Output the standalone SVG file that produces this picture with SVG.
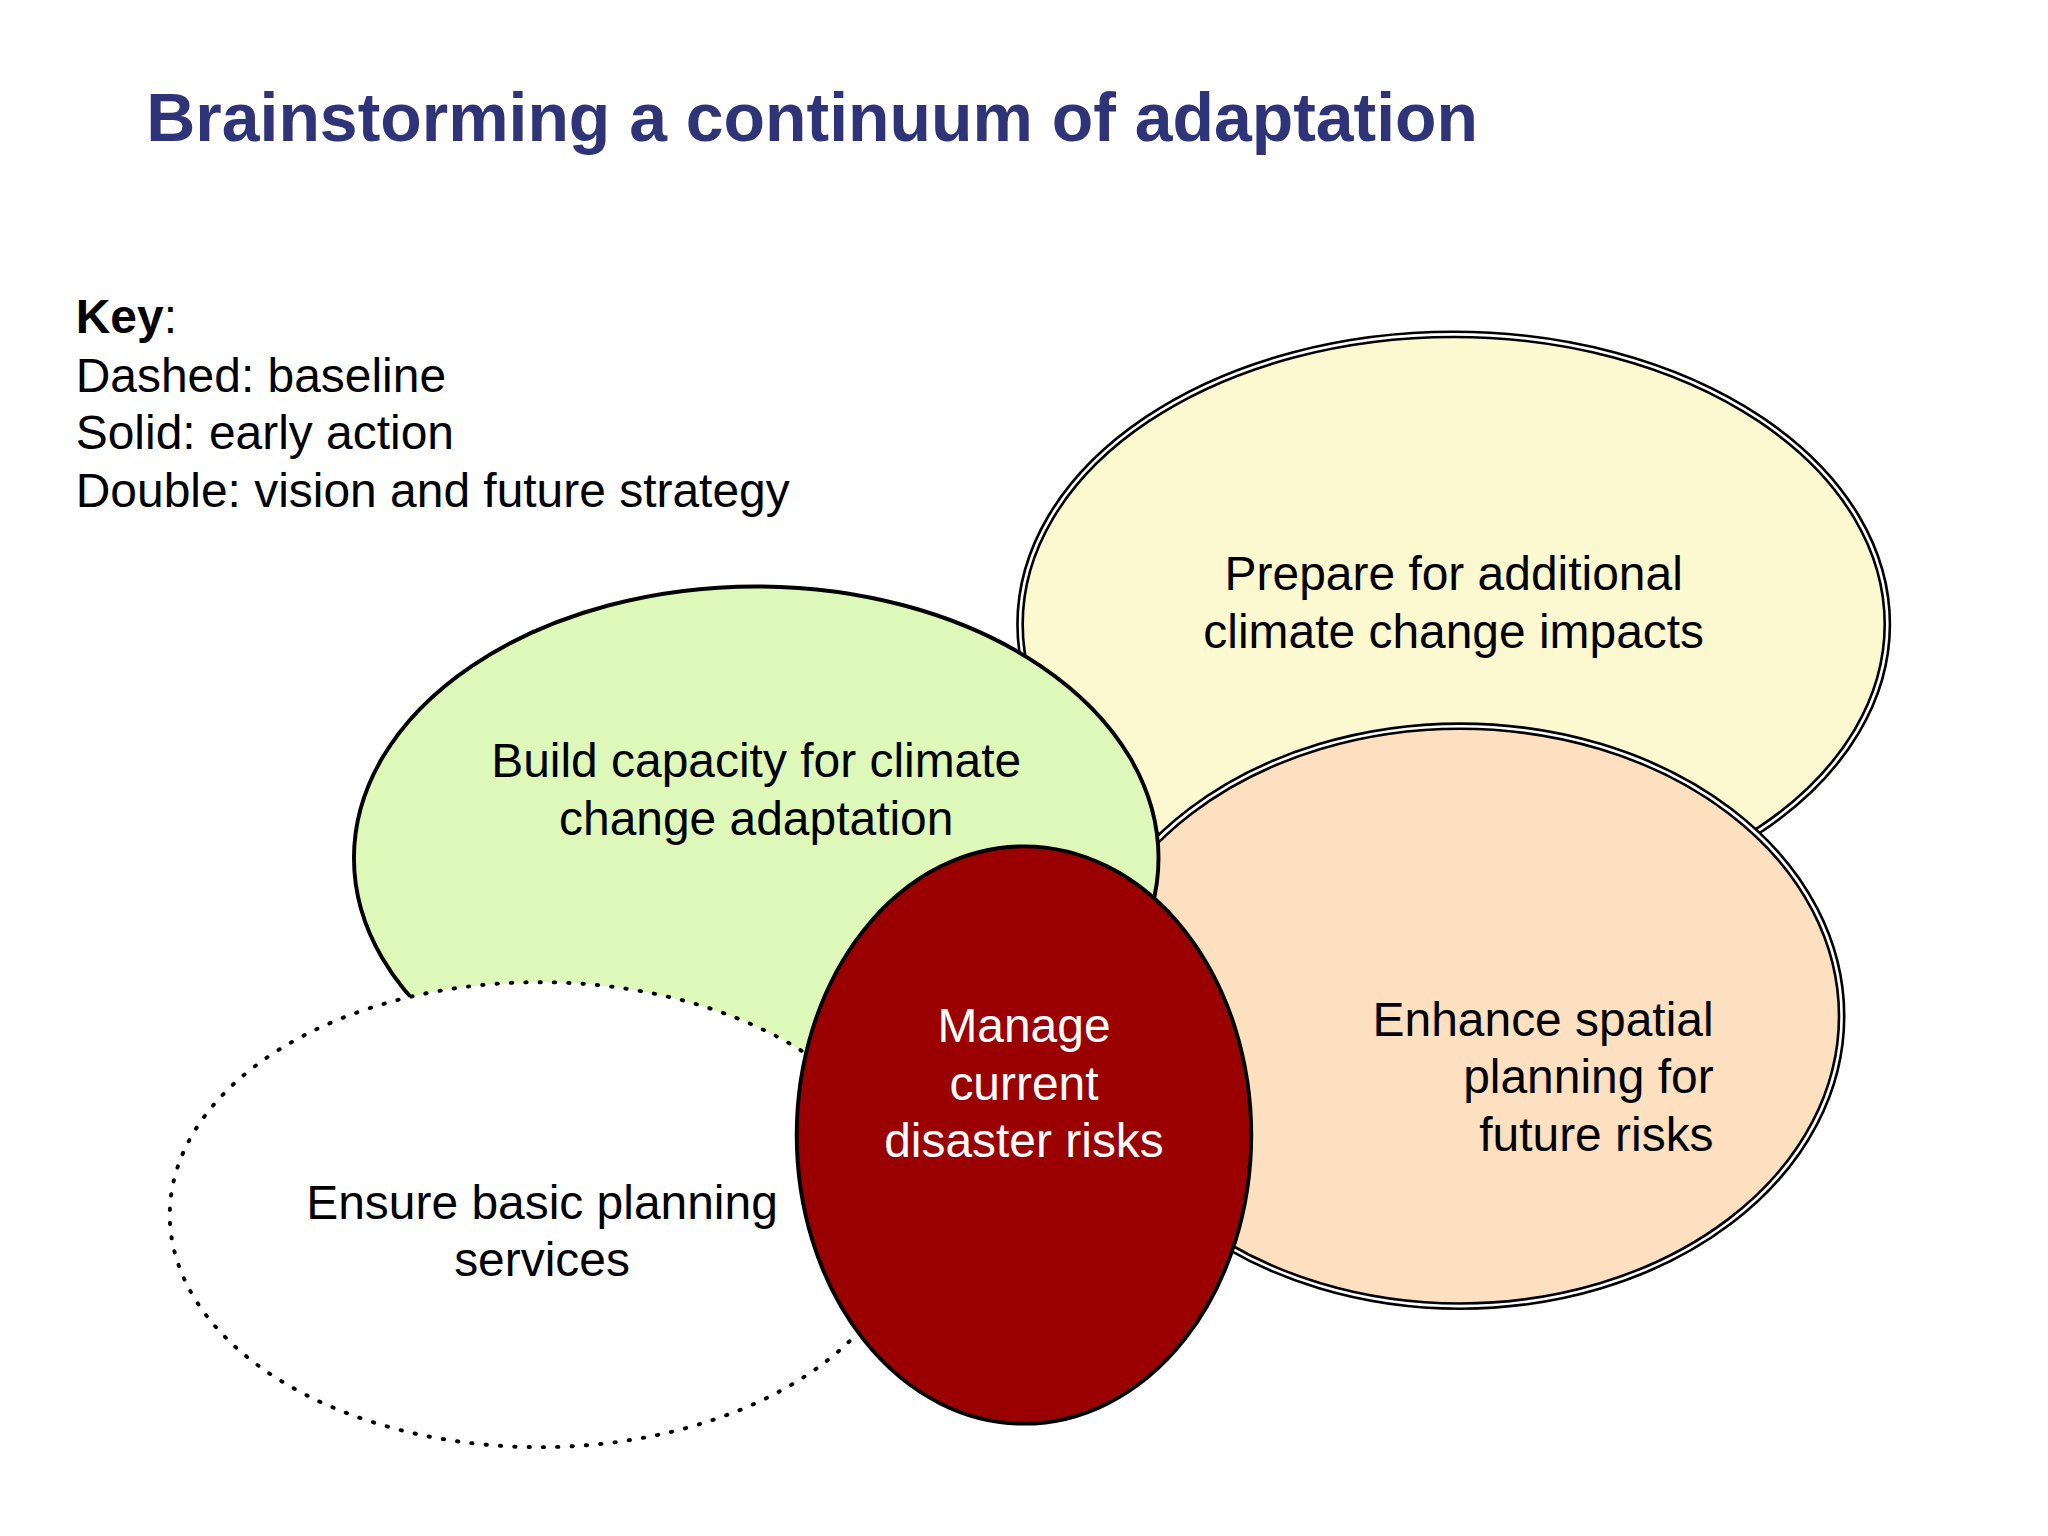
<svg xmlns="http://www.w3.org/2000/svg" width="2048" height="1536" viewBox="0 0 2048 1536">
<style>
text{font-family:"Liberation Sans",Arial,sans-serif;font-size:36.7px;fill:#000}
.dbl{stroke:#000;stroke-width:6}
.dblin{fill:none;stroke:#fff;stroke-width:2}
</style>
<rect width="2048" height="1536" fill="#fff"/>
<g transform="scale(1.3061)">
<text x="112" y="108" style="font-size:52px;font-weight:bold;fill:#2f3478">Brainstorming a continuum of adaptation</text>
<g id="key">
<text x="58" y="255"><tspan font-weight="bold">Key</tspan>:</text>
<text x="58" y="300">Dashed: baseline</text>
<text x="58" y="344">Solid: early action</text>
<text x="58" y="388">Double: vision and future strategy</text>
</g>
<g id="prepare">
<ellipse cx="1113" cy="478" rx="332" ry="222" fill="#fcf9d0" class="dbl"/>
<ellipse cx="1113" cy="478" rx="332" ry="222" class="dblin"/>
<text x="1113" y="452" text-anchor="middle">Prepare for additional</text>
<text x="1113" y="496" text-anchor="middle">climate change impacts</text>
</g>
<g id="enhance">
<ellipse cx="1118" cy="778" rx="292" ry="222" fill="#fde0c0" class="dbl"/>
<ellipse cx="1118" cy="778" rx="292" ry="222" class="dblin"/>
<text x="1312" y="793" text-anchor="end">Enhance spatial</text>
<text x="1312" y="837" text-anchor="end">planning for</text>
<text x="1312" y="881" text-anchor="end">future risks</text>
</g>
<g id="build">
<ellipse cx="579" cy="657" rx="308" ry="208" fill="#ddf8b8" stroke="#000" stroke-width="3"/>
<text x="579" y="595" text-anchor="middle">Build capacity for climate</text>
<text x="579" y="639" text-anchor="middle">change adaptation</text>
</g>
<g id="ensure">
<ellipse cx="413" cy="930" rx="283" ry="178" fill="#fff" stroke="#000" stroke-width="3" stroke-dasharray="1 10" stroke-linecap="round"/>
<text x="415" y="933" text-anchor="middle">Ensure basic planning</text>
<text x="415" y="977" text-anchor="middle">services</text>
</g>
<g id="manage">
<ellipse cx="784" cy="869" rx="174" ry="221" fill="#9b0000" stroke="#000" stroke-width="3"/>
<text x="784" y="798" text-anchor="middle" style="fill:#fff">Manage</text>
<text x="784" y="842" text-anchor="middle" style="fill:#fff">current</text>
<text x="784" y="886" text-anchor="middle" style="fill:#fff">disaster risks</text>
</g>
<g id="connectors"/>
</g>
</svg>
